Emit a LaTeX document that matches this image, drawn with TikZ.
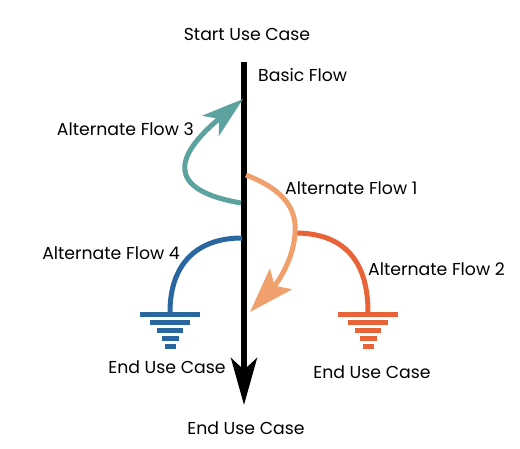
\documentclass[tikz,border=0pt]{standalone}
\usepackage{fontspec}
\setmainfont{Poppins}
\usetikzlibrary{arrows.meta}

\definecolor{flowteal}{RGB}{92,162,158}
\definecolor{flowpeach}{RGB}{240,160,108}
\definecolor{flowred}{RGB}{232,100,56}
\definecolor{flowblue}{RGB}{42,102,160}

\tikzset{
  flow/.style={line width=5pt},
  bigtip/.style={-{Stealth[length=47pt,width=26pt,inset=12pt]}},
  tealtip/.style={-{Stealth[length=42pt,width=26pt,inset=11pt]}},
  peachtip/.style={-{Stealth[length=45pt,width=30pt,inset=9pt]}}
}

\begin{document}
\begin{tikzpicture}[x=1pt,y=-1pt]
  \useasboundingbox (0,0) rectangle (520,449);

  \begin{scope}[every node/.style={font=\fontsize{17.3}{19}\selectfont, inner sep=0pt}]
    \node (start)  at (247,34)            {Start Use Case};
    \node (basic)  at (258,75) [anchor=west] {Basic Flow};
    \node (alt3)   at (194,129) [anchor=east] {Alternate Flow 3};
    \node (alt1)   at (285,188) [anchor=west] {Alternate Flow 1};
    \node (alt4)   at (180,253) [anchor=east] {Alternate Flow 4};
    \node (alt2)   at (368,269) [anchor=west] {Alternate Flow 2};
    \node (end4)   at (167,367)           {End Use Case};
    \node (end2)   at (372,372)           {End Use Case};
    \node (endb)   at (246,428)           {End Use Case};
  \end{scope}

  \coordinate (top)  at (244,62);
  \coordinate (tip)  at (244,405);
  \coordinate (a3s)  at (241,203);
  \coordinate (a3e)  at (243,99);
  \coordinate (a1s)  at (246,175);
  \coordinate (a1m)  at (295,233);
  \coordinate (a1e)  at (250,312);
  \coordinate (a2e)  at (368,312);
  \coordinate (a4s)  at (242,238);
  \coordinate (a4e)  at (170,312);

  % basic flow
  \draw[flow, line width=5.5pt, bigtip] (top) -- (tip);

  % alternate flows
  \draw[flow, flowteal, tealtip] (a3s) .. controls (165,190) and (174,156) .. (a3e);
  \draw[flow, flowred] (a1m) .. controls (345,233) and (368,262) .. (a2e);
  \draw[flow, flowpeach, peachtip] (a1s) .. controls (285,190) and (297,210) .. (a1m)
    .. controls (294,256) and (280,280) .. (a1e);
  \draw[flow, flowblue] (a4s) .. controls (196,238) and (170,265) .. (a4e);

  % ground bars
  \foreach \w/\dy in {60/0,40/8,26/16,17/24,11/32} {
    \fill[flowblue] ([shift={(-\w/2,\dy)}]a4e) rectangle ([shift={(\w/2,\dy+5.5)}]a4e);
    \fill[flowred]  ([shift={(-\w/2,\dy)}]a2e) rectangle ([shift={(\w/2,\dy+5.5)}]a2e);
  }

\end{tikzpicture}
\end{document}
